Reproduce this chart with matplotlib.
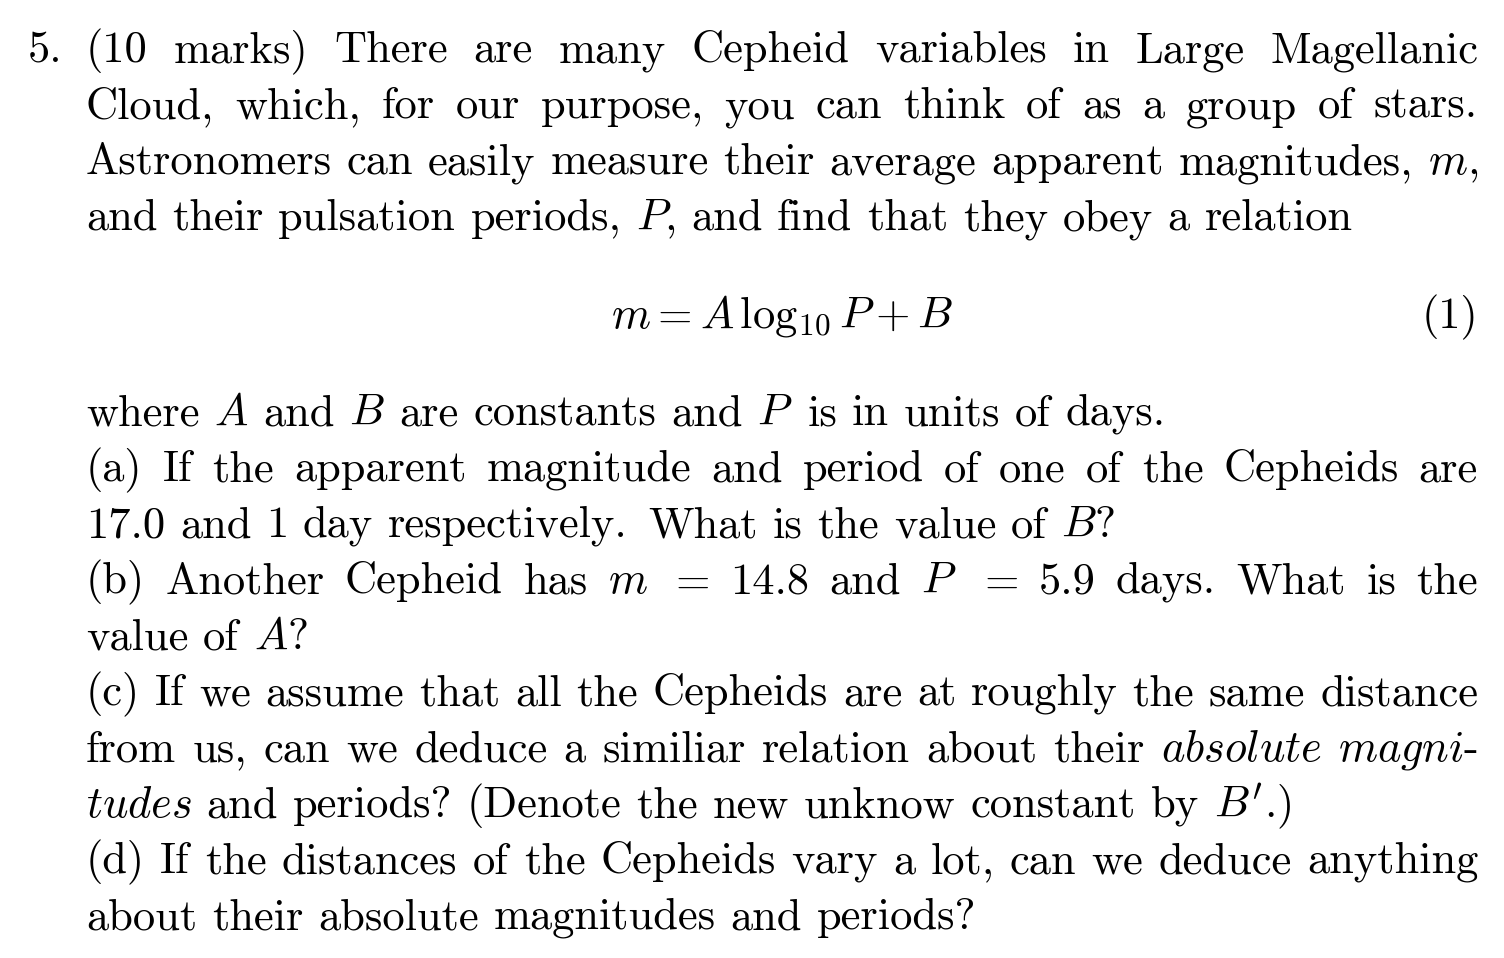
import matplotlib
matplotlib.use("Agg")
import matplotlib.pyplot as plt

plt.rcParams["mathtext.fontset"] = "cm"
plt.rcParams["font.family"] = "cmr10"

W, H = 1504, 958
FS = 32
LEFT, RIGHT = 86, 1478

# (words, baseline y in px, justify?)
lines = [
    ("(10 marks) There are many Cepheid variables in Large Magellanic", 62, True),
    ("Cloud, which, for our purpose, you can think of as a group of stars.", 118, True),
    ("Astronomers can easily measure their average apparent magnitudes, $m$,", 174, True),
    ("and their pulsation periods, $P$, and find that they obey a relation", 230, False),
    ("where $A$ and $B$ are constants and $P$ is in units of days.", 425, False),
    ("(a) If the apparent magnitude and period of one of the Cepheids are", 481, True),
    ("17.0 and 1 day respectively.  What is the value of $B$?", 537, False),
    ("(b) Another Cepheid has $m$ $=$ 14.8 and $P$ $=$ 5.9 days.  What is the", 593, True),
    ("value of $A$?", 649, False),
    ("(c) If we assume that all the Cepheids are at roughly the same distance", 705, True),
    ("from us, can we deduce a similiar relation about their $\\mathit{absolute}$ $\\mathit{magni}$-", 761, True),
    ("$\\mathit{tudes}$ and periods? (Denote the new unknow constant by $B'$.)", 817, False),
    ("(d) If the distances of the Cepheids vary a lot, can we deduce anything", 873, True),
    ("about their absolute magnitudes and periods?", 929, False),
]

equation = r"$m = A\,\log_{10} P + B$"
eq_y = 328

fig = plt.figure(figsize=(W / 100, H / 100), dpi=100)
fig.patch.set_facecolor("white")
renderer = fig.canvas.get_renderer()


def put(x, y, s, **kw):
    return fig.text(x / W, 1 - y / H, s, fontsize=FS, va="baseline", **kw)


put(28, 62, "5.")

space = None
for text, y, justify in lines:
    words = text.split()
    arts = [put(0, y, w) for w in words]
    widths = [a.get_window_extent(renderer).width for a in arts]
    if space is None:
        t = put(0, 0, "a b")
        t2 = put(0, 0, "ab")
        space = t.get_window_extent(renderer).width - t2.get_window_extent(renderer).width
        t.remove()
        t2.remove()
    if justify and len(words) > 1:
        gap = (RIGHT - LEFT - sum(widths)) / (len(words) - 1)
    else:
        gap = space
    x = LEFT
    for a, w, word in zip(arts, widths, words):
        a.set_x(x / W)
        x += w + gap
        if word.endswith(".") and not justify and word not in ("5.",):
            x += space * 0.4

put(782, eq_y, equation, ha="center")
put(RIGHT, eq_y, "(1)", ha="right")

fig.savefig("out.png", dpi=100)
